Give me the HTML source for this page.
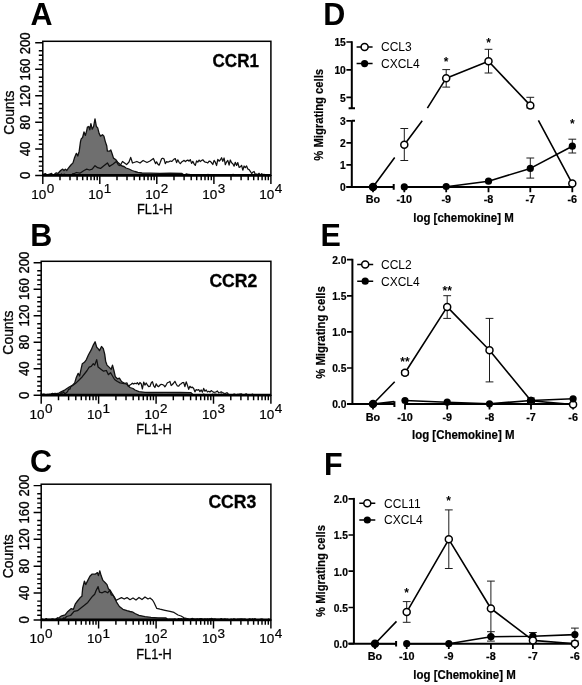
<!DOCTYPE html>
<html lang="en"><head><meta charset="utf-8"><title>Figure</title>
<style>
html,body{margin:0;padding:0;background:#fff}
svg{display:block}
svg text{font-family:"Liberation Sans", sans-serif;fill:#000}
</style></head><body>
<svg width="582" height="685" viewBox="0 0 582 685">
<rect x="0" y="0" width="582" height="685" fill="#fff"/>
<text x="30.6" y="24.9" font-size="30.5" font-weight="bold">A</text>
<polygon points="42.8,175.3 42.8,175.1 44.0,174.0 45.3,173.6 46.5,174.5 47.8,175.0 49.0,174.2 50.3,173.8 51.5,173.4 52.8,174.9 54.0,174.9 55.3,173.4 56.5,172.9 57.9,173.5 60.6,170.5 62.7,169.1 64.0,170.5 65.4,169.1 66.8,170.5 68.2,168.4 70.9,165.0 73.0,162.9 74.4,158.1 76.4,153.3 77.8,156.0 79.2,151.2 80.5,141.6 81.2,138.9 82.6,137.5 84.0,132.0 85.4,135.4 86.7,130.6 87.4,127.2 88.8,126.5 89.8,129.9 90.9,123.7 92.2,129.2 93.6,126.5 95.0,118.9 96.4,126.5 97.7,127.9 99.1,133.4 100.5,136.1 102.5,134.7 103.9,136.1 105.3,141.6 106.7,145.7 107.4,151.2 109.4,151.2 110.8,149.9 112.2,154.0 113.5,158.1 115.6,159.5 117.7,162.2 120.0,164.3 122.0,166.0 124.0,166.5 126.0,168.0 129.0,169.0 132.0,170.5 135.0,171.5 138.0,172.3 142.0,173.0 150.0,173.2 160.0,173.3 170.0,173.2 182.0,173.4 184.0,175.0 185.3,174.6 186.6,173.9 187.8,174.3 189.1,174.3 190.3,175.3 191.6,174.6 192.8,175.1 194.1,175.3 195.3,175.3 196.6,175.3 197.8,175.0 199.1,175.3 200.3,174.9 201.6,175.3 202.8,175.3 204.1,175.3 205.3,175.3 206.6,175.3 207.8,174.4 209.1,175.3 210.3,174.7 211.6,175.3 212.8,175.3 214.1,174.8 215.3,175.3 216.6,175.3 217.8,175.3 219.1,175.3 220.3,175.3 221.6,175.3 222.8,175.3 224.1,175.3 225.3,175.3 226.6,174.7 227.8,175.3 229.1,175.3 230.3,175.3 231.6,175.3 232.8,174.5 234.1,174.7 235.3,175.3 236.6,175.3 237.8,175.3 239.1,175.3 240.3,175.3 241.6,175.1 242.8,175.3 244.1,175.3 245.3,175.3 246.6,174.9 247.8,175.3 249.1,175.3 250.3,175.3 251.6,174.8 252.8,175.3 254.1,175.3 255.3,175.1 256.6,175.3 257.8,174.9 259.1,175.3 260.3,175.3 261.6,175.3 262.8,175.3 264.1,175.3 265.3,175.3 266.6,175.3 267.8,175.2 269.1,175.3 270.3,175.3 270.9,175.3" fill="#6f6f6f" stroke="#111" stroke-width="1.3" stroke-linejoin="round"/>
<polyline points="42.8,175.3 44.0,175.3 45.3,175.3 46.5,175.0 47.8,175.2 49.0,175.2 50.3,175.2 51.5,174.4 52.8,175.1 54.0,175.1 55.3,175.1 56.5,175.1 57.8,175.0 59.0,174.9 60.3,175.0 61.5,174.0 62.8,174.9 64.0,174.2 65.3,174.7 66.5,174.7 67.8,174.6 69.0,174.5 70.3,175.0 71.5,175.3 72.8,173.5 74.4,173.5 76.4,172.5 79.9,173.2 84.0,170.5 86.7,169.1 89.5,170.0 92.2,169.1 95.0,165.7 97.7,167.7 100.5,168.4 103.9,165.7 107.4,162.9 109.4,166.4 112.8,164.3 116.3,161.5 118.4,165.0 120.0,165.7 122.5,161.5 126.6,164.6 129.0,162.0 130.7,157.4 132.5,163.0 136.9,161.5 140.0,163.0 143.1,160.5 147.0,162.5 150.0,161.0 153.4,158.5 155.5,163.6 156.6,161.8 157.8,164.1 159.1,165.2 160.3,162.3 161.6,158.8 162.8,158.2 164.1,159.1 165.3,163.7 166.6,161.7 167.8,162.1 169.1,161.6 170.3,161.0 171.6,161.4 172.8,160.4 174.1,159.1 175.3,158.6 176.6,162.6 177.8,159.8 179.1,162.3 180.3,163.7 181.6,162.1 182.8,161.2 184.1,160.4 185.3,161.7 186.6,160.6 187.8,160.1 189.1,161.2 190.3,159.6 191.6,163.4 192.8,161.3 194.1,163.9 195.3,165.4 196.6,160.9 197.8,162.2 199.1,160.1 200.3,161.5 201.6,160.6 202.8,159.8 204.1,161.2 205.3,162.2 206.6,162.3 207.8,163.0 209.1,161.2 210.3,161.4 211.6,162.8 212.8,164.5 214.1,160.4 215.3,162.2 216.6,165.5 217.8,159.3 219.1,161.2 220.3,160.0 221.6,157.7 222.8,161.4 224.1,158.0 225.3,164.7 226.6,161.8 227.8,160.4 229.1,165.2 230.3,160.0 231.6,162.8 232.8,163.8 234.1,166.1 235.3,162.3 236.6,165.4 237.8,162.6 239.1,167.3 240.3,166.9 241.6,165.3 242.8,170.2 244.1,166.0 245.3,167.7 246.6,165.9 247.8,169.0 249.1,169.6 250.3,171.3 251.6,173.5 252.8,172.3 254.1,171.5 255.3,174.5 256.6,174.0 257.8,174.6 259.1,173.3 260.3,175.3 261.6,173.7 262.8,174.6 264.1,174.4 265.3,175.0 266.6,175.1 267.8,175.1 269.1,175.2 270.3,175.3" fill="none" stroke="#111" stroke-width="1.25" stroke-linejoin="round"/>
<rect x="42.8" y="41.3" width="228.09999999999997" height="134.0" fill="none" stroke="#000" stroke-width="1.5"/>
<line x1="42.8" y1="175.3" x2="270.9" y2="175.3" stroke="#000" stroke-width="2.7"/>
<path d="M35.2,175.4H42.8 M38.8,170.8H42.8 M38.8,166.1H42.8 M38.8,161.5H42.8 M38.8,156.8H42.8 M35.2,148.9H42.8 M38.8,144.2H42.8 M38.8,139.6H42.8 M38.8,134.9H42.8 M38.8,130.3H42.8 M35.2,122.3H42.8 M38.8,117.7H42.8 M38.8,113.0H42.8 M38.8,108.4H42.8 M38.8,103.7H42.8 M35.2,95.8H42.8 M38.8,91.1H42.8 M38.8,86.5H42.8 M38.8,81.8H42.8 M38.8,77.2H42.8 M35.2,69.2H42.8 M38.8,64.6H42.8 M38.8,60.0H42.8 M38.8,55.3H42.8 M38.8,50.7H42.8 M35.2,42.7H42.8 M42.8,175.3V183.9 M60.0,175.3V180.3 M70.0,175.3V180.3 M77.1,175.3V180.3 M82.7,175.3V180.3 M87.2,175.3V180.3 M91.0,175.3V180.3 M94.3,175.3V180.3 M97.2,175.3V180.3 M99.8,175.3V183.9 M117.0,175.3V180.3 M127.0,175.3V180.3 M134.2,175.3V180.3 M139.7,175.3V180.3 M144.2,175.3V180.3 M148.0,175.3V180.3 M151.3,175.3V180.3 M154.2,175.3V180.3 M156.8,175.3V183.9 M174.0,175.3V180.3 M184.1,175.3V180.3 M191.2,175.3V180.3 M196.7,175.3V180.3 M201.2,175.3V180.3 M205.0,175.3V180.3 M208.3,175.3V180.3 M211.3,175.3V180.3 M213.9,175.3V183.9 M231.0,175.3V180.3 M241.1,175.3V180.3 M248.2,175.3V180.3 M253.7,175.3V180.3 M258.2,175.3V180.3 M262.1,175.3V180.3 M265.4,175.3V180.3 M268.3,175.3V180.3 M270.9,175.3V183.9" stroke="#000" stroke-width="1.45" fill="none"/>
<text transform="translate(30.3,175.4) rotate(-90) scale(1,1.14)" text-anchor="middle" font-size="13.1" stroke="#000" stroke-width="0.3">0</text>
<text transform="translate(30.3,149.0) rotate(-90) scale(1,1.14)" text-anchor="middle" font-size="13.1" stroke="#000" stroke-width="0.3">40</text>
<text transform="translate(30.3,122.6) rotate(-90) scale(1,1.14)" text-anchor="middle" font-size="13.1" stroke="#000" stroke-width="0.3">80</text>
<text transform="translate(30.3,96.1) rotate(-90) scale(1,1.14)" text-anchor="middle" font-size="13.1" stroke="#000" stroke-width="0.3">120</text>
<text transform="translate(30.3,69.7) rotate(-90) scale(1,1.14)" text-anchor="middle" font-size="13.1" stroke="#000" stroke-width="0.3">160</text>
<text transform="translate(30.3,43.3) rotate(-90) scale(1,1.14)" text-anchor="middle" font-size="13.1" stroke="#000" stroke-width="0.3">200</text>
<text transform="translate(14.3,112.6) rotate(-90) scale(1,1.03)" text-anchor="middle" font-size="13.9" stroke="#000" stroke-width="0.3">Counts</text>
<text transform="translate(42.7,198.7) scale(1,1.0)" text-anchor="middle" font-size="13.5" stroke="#000" stroke-width="0.2">10<tspan dy="-5.7" dx="0.5">0</tspan></text>
<text transform="translate(99.7,198.7) scale(1,1.0)" text-anchor="middle" font-size="13.5" stroke="#000" stroke-width="0.2">10<tspan dy="-5.7" dx="0.5">1</tspan></text>
<text transform="translate(156.7,198.7) scale(1,1.0)" text-anchor="middle" font-size="13.5" stroke="#000" stroke-width="0.2">10<tspan dy="-5.7" dx="0.5">2</tspan></text>
<text transform="translate(213.8,198.7) scale(1,1.0)" text-anchor="middle" font-size="13.5" stroke="#000" stroke-width="0.2">10<tspan dy="-5.7" dx="0.5">3</tspan></text>
<text transform="translate(270.8,198.7) scale(1,1.0)" text-anchor="middle" font-size="13.5" stroke="#000" stroke-width="0.2">10<tspan dy="-5.7" dx="0.5">4</tspan></text>
<text transform="translate(154.8,214.3) scale(1,1.1)" text-anchor="middle" font-size="12.8" stroke="#000" stroke-width="0.25">FL1-H</text>
<text transform="translate(212.6,67.0) scale(1,1.08)" font-size="17.0" font-weight="bold" stroke="#000" stroke-width="0.3">CCR1</text>
<text x="30.3" y="245.7" font-size="30.5" font-weight="bold">B</text>
<polygon points="41.2,395.2 41.2,393.2 42.5,394.9 43.7,394.0 45.0,394.4 46.2,394.7 47.5,394.5 48.7,394.5 50.0,394.2 51.2,393.9 52.5,393.4 53.7,393.9 55.0,393.3 56.2,393.6 57.5,393.4 58.2,393.5 61.0,391.9 65.1,389.8 69.2,387.0 72.7,385.0 74.7,382.9 76.1,378.1 78.2,373.3 79.6,376.0 80.9,369.9 82.3,363.7 84.4,362.3 86.4,359.6 88.5,354.7 91.2,349.9 93.3,345.1 95.1,341.7 96.7,347.2 98.1,348.6 99.5,350.6 101.5,346.5 103.3,348.6 104.7,354.1 105.7,361.6 107.0,365.1 109.1,367.1 111.2,369.2 112.5,365.1 113.9,370.5 115.3,376.7 117.4,378.8 119.4,378.1 121.5,381.5 124.9,383.5 127.0,384.5 130.0,387.5 133.0,388.5 135.0,390.0 139.0,391.7 145.0,392.3 150.0,392.5 165.0,392.4 180.0,392.5 191.0,392.6 193.0,394.6 193.7,394.9 194.9,394.9 196.2,394.9 197.4,394.9 198.7,394.9 199.9,394.9 201.2,394.7 202.4,394.7 203.7,394.1 204.9,395.0 206.2,395.0 207.4,395.0 208.7,395.0 209.9,395.0 211.2,395.0 212.4,394.2 213.7,394.6 214.9,394.2 216.2,394.3 217.4,395.0 218.7,394.9 219.9,395.0 221.2,394.0 222.4,395.0 223.7,394.4 224.9,394.3 226.2,395.0 227.4,395.0 228.7,395.0 229.9,395.1 231.2,395.0 232.4,395.1 233.7,395.1 234.9,395.1 236.2,395.1 237.4,395.1 238.7,395.1 239.9,395.1 241.2,395.1 242.4,394.7 243.7,395.1 244.9,394.7 246.2,395.1 247.4,395.1 248.7,395.1 249.9,395.1 251.2,395.1 252.4,395.1 253.7,395.1 254.9,395.1 256.2,395.1 257.4,395.2 258.7,395.2 259.9,395.2 261.2,395.2 262.4,395.2 263.7,395.2 264.9,395.2 266.2,394.8 267.4,395.2 268.7,395.2 269.9,395.0 270.9,395.2" fill="#6f6f6f" stroke="#111" stroke-width="1.3" stroke-linejoin="round"/>
<polyline points="41.2,395.1 42.5,395.2 43.7,395.2 45.0,395.2 46.2,395.1 47.5,395.1 48.7,395.1 50.0,395.1 51.2,395.1 52.5,395.1 53.7,395.1 55.0,394.2 56.2,394.1 57.5,395.0 58.7,394.8 60.0,395.2 61.2,392.8 62.5,393.2 63.7,391.8 65.0,394.5 66.2,392.7 67.5,391.8 68.7,389.1 70.0,389.1 70.6,387.0 75.4,383.6 79.6,379.5 82.3,376.7 84.4,374.0 87.1,370.5 89.2,367.1 91.2,366.4 93.3,363.7 94.7,365.1 96.7,359.6 98.1,367.1 100.9,369.2 103.6,371.2 106.4,370.5 108.4,374.7 110.5,372.6 112.5,376.0 114.6,379.5 117.4,381.5 120.1,382.9 124.2,383.6 127.0,382.9 128.4,386.4 130.0,385.0 131.2,384.3 132.4,383.2 133.7,384.1 134.9,383.2 136.2,383.8 137.4,382.7 138.7,384.7 139.9,382.5 141.2,383.7 142.4,389.0 143.7,382.1 144.9,385.1 146.2,383.0 147.4,385.0 148.7,386.6 149.9,386.5 151.2,383.0 152.4,381.6 153.7,385.8 154.9,387.5 156.2,383.8 157.4,385.9 158.7,386.7 159.9,385.1 161.2,384.4 162.4,384.5 163.7,385.2 164.9,386.8 166.2,384.8 167.4,382.8 168.7,382.2 169.9,381.4 171.2,385.5 172.4,384.5 173.7,383.0 174.9,381.3 176.2,384.0 177.4,386.0 178.7,386.2 179.9,384.5 181.2,383.7 182.4,382.6 183.7,382.5 184.9,386.6 186.2,381.8 187.4,385.1 188.7,389.3 189.9,386.3 191.2,387.7 192.4,387.2 193.7,388.5 194.9,391.9 196.2,389.6 197.4,390.2 198.7,389.7 199.9,391.6 201.2,390.0 202.4,392.2 203.7,388.4 204.9,391.2 206.2,390.0 207.4,392.0 208.7,391.3 209.9,392.1 211.2,390.6 212.4,391.5 213.7,392.3 214.9,392.1 216.2,391.8 217.4,391.0 218.7,392.9 219.9,392.5 221.2,391.9 222.4,392.6 223.7,393.0 224.9,394.3 226.2,392.8 227.4,392.8 228.7,394.9 229.9,395.2 231.2,394.6 232.4,395.2 233.7,394.2 234.9,394.2 236.2,395.0 237.4,394.4 238.7,394.4 239.9,394.0 241.2,393.9 242.4,394.5 243.7,394.6 244.9,394.6 246.2,393.8 247.4,394.7 248.7,394.8 249.9,394.9 251.2,395.0 252.4,394.1 253.7,394.7 254.9,395.2 256.2,394.6 257.4,395.2 258.7,394.9 259.9,395.2 261.2,395.2 262.4,395.2 263.7,395.2 264.9,395.2 266.2,394.8 267.4,395.2 268.7,395.2 269.9,395.2" fill="none" stroke="#111" stroke-width="1.25" stroke-linejoin="round"/>
<rect x="41.2" y="261.3" width="229.7" height="133.89999999999998" fill="none" stroke="#000" stroke-width="1.5"/>
<line x1="41.2" y1="395.2" x2="270.9" y2="395.2" stroke="#000" stroke-width="2.7"/>
<path d="M33.6,395.3H41.2 M37.2,390.7H41.2 M37.2,386.0H41.2 M37.2,381.4H41.2 M37.2,376.7H41.2 M33.6,368.8H41.2 M37.2,364.1H41.2 M37.2,359.5H41.2 M37.2,354.9H41.2 M37.2,350.2H41.2 M33.6,342.3H41.2 M37.2,337.6H41.2 M37.2,333.0H41.2 M37.2,328.3H41.2 M37.2,323.7H41.2 M33.6,315.7H41.2 M37.2,311.1H41.2 M37.2,306.5H41.2 M37.2,301.8H41.2 M37.2,297.2H41.2 M33.6,289.2H41.2 M37.2,284.6H41.2 M37.2,279.9H41.2 M37.2,275.3H41.2 M37.2,270.7H41.2 M33.6,262.7H41.2 M41.2,395.2V403.8 M58.5,395.2V400.2 M68.6,395.2V400.2 M75.8,395.2V400.2 M81.3,395.2V400.2 M85.9,395.2V400.2 M89.7,395.2V400.2 M93.1,395.2V400.2 M96.0,395.2V400.2 M98.6,395.2V403.8 M115.9,395.2V400.2 M126.0,395.2V400.2 M133.2,395.2V400.2 M138.8,395.2V400.2 M143.3,395.2V400.2 M147.2,395.2V400.2 M150.5,395.2V400.2 M153.4,395.2V400.2 M156.1,395.2V403.8 M173.3,395.2V400.2 M183.4,395.2V400.2 M190.6,395.2V400.2 M196.2,395.2V400.2 M200.7,395.2V400.2 M204.6,395.2V400.2 M207.9,395.2V400.2 M210.8,395.2V400.2 M213.5,395.2V403.8 M230.8,395.2V400.2 M240.9,395.2V400.2 M248.0,395.2V400.2 M253.6,395.2V400.2 M258.2,395.2V400.2 M262.0,395.2V400.2 M265.3,395.2V400.2 M268.3,395.2V400.2 M270.9,395.2V403.8" stroke="#000" stroke-width="1.45" fill="none"/>
<text transform="translate(28.5,395.3) rotate(-90) scale(1,1.08)" text-anchor="middle" font-size="13.1" stroke="#000" stroke-width="0.3">0</text>
<text transform="translate(28.5,368.8) rotate(-90) scale(1,1.08)" text-anchor="middle" font-size="13.1" stroke="#000" stroke-width="0.3">40</text>
<text transform="translate(28.5,342.3) rotate(-90) scale(1,1.08)" text-anchor="middle" font-size="13.1" stroke="#000" stroke-width="0.3">80</text>
<text transform="translate(28.5,315.7) rotate(-90) scale(1,1.08)" text-anchor="middle" font-size="13.1" stroke="#000" stroke-width="0.3">120</text>
<text transform="translate(28.5,289.2) rotate(-90) scale(1,1.08)" text-anchor="middle" font-size="13.1" stroke="#000" stroke-width="0.3">160</text>
<text transform="translate(28.5,262.7) rotate(-90) scale(1,1.08)" text-anchor="middle" font-size="13.1" stroke="#000" stroke-width="0.3">200</text>
<text transform="translate(13.3,332.6) rotate(-90) scale(1,1.03)" text-anchor="middle" font-size="13.9" stroke="#000" stroke-width="0.3">Counts</text>
<text transform="translate(41.1,418.6) scale(1,1.0)" text-anchor="middle" font-size="13.5" stroke="#000" stroke-width="0.2">10<tspan dy="-5.7" dx="0.5">0</tspan></text>
<text transform="translate(98.5,418.6) scale(1,1.0)" text-anchor="middle" font-size="13.5" stroke="#000" stroke-width="0.2">10<tspan dy="-5.7" dx="0.5">1</tspan></text>
<text transform="translate(156.0,418.6) scale(1,1.0)" text-anchor="middle" font-size="13.5" stroke="#000" stroke-width="0.2">10<tspan dy="-5.7" dx="0.5">2</tspan></text>
<text transform="translate(213.4,418.6) scale(1,1.0)" text-anchor="middle" font-size="13.5" stroke="#000" stroke-width="0.2">10<tspan dy="-5.7" dx="0.5">3</tspan></text>
<text transform="translate(270.8,418.6) scale(1,1.0)" text-anchor="middle" font-size="13.5" stroke="#000" stroke-width="0.2">10<tspan dy="-5.7" dx="0.5">4</tspan></text>
<text transform="translate(154.0,434.2) scale(1,1.1)" text-anchor="middle" font-size="12.8" stroke="#000" stroke-width="0.25">FL1-H</text>
<text transform="translate(209.4,286.7) scale(1,1.08)" font-size="17.6" font-weight="bold" stroke="#000" stroke-width="0.3">CCR2</text>
<text x="30.0" y="472.4" font-size="30.5" font-weight="bold">C</text>
<polygon points="41.2,619.8 41.2,619.1 42.5,619.2 43.7,619.8 45.0,619.7 46.2,618.6 47.5,619.5 48.7,619.3 50.0,619.3 51.2,619.2 52.5,618.9 53.7,619.2 55.0,619.6 56.2,618.9 57.5,617.7 58.2,618.2 61.0,616.2 65.1,614.8 67.9,611.4 71.3,608.6 73.4,609.3 75.4,603.8 77.5,601.0 80.2,597.6 81.9,596.2 82.7,588.0 84.4,581.1 85.7,584.6 87.8,580.4 89.9,576.3 91.9,574.2 95.4,574.0 97.4,572.6 98.4,575.6 99.8,570.8 101.1,575.6 102.9,580.4 105.0,582.5 107.0,584.6 108.4,588.7 110.5,590.7 112.5,594.2 114.6,597.6 116.7,602.4 119.4,606.5 122.9,609.3 127.0,610.7 130.0,611.5 133.0,612.2 135.0,613.5 139.0,615.3 145.0,616.6 151.0,617.4 158.0,617.8 166.0,618.0 168.0,619.6 168.7,619.2 169.9,619.2 171.2,619.2 172.4,619.2 173.7,619.2 174.9,618.8 176.2,619.3 177.4,619.3 178.7,618.6 179.9,619.1 181.2,618.6 182.4,619.3 183.7,618.6 184.9,618.6 186.2,619.3 187.4,619.1 188.7,619.3 189.9,619.3 191.2,618.9 192.4,618.4 193.7,619.4 194.9,619.4 196.2,619.4 197.4,618.8 198.7,619.4 199.9,618.7 201.2,618.6 202.4,619.4 203.7,619.4 204.9,619.4 206.2,619.4 207.4,618.9 208.7,619.4 209.9,618.7 211.2,619.5 212.4,619.0 213.7,619.3 214.9,618.8 216.2,619.5 217.4,619.5 218.7,619.5 219.9,619.5 221.2,618.6 222.4,619.5 223.7,619.5 224.9,619.5 226.2,619.5 227.4,619.6 228.7,619.6 229.9,619.6 231.2,619.1 232.4,619.6 233.7,619.6 234.9,619.1 236.2,619.6 237.4,619.6 238.7,619.6 239.9,619.2 241.2,619.6 242.4,619.5 243.7,619.6 244.9,619.5 246.2,619.7 247.4,619.7 248.7,619.4 249.9,619.7 251.2,619.7 252.4,619.3 253.7,619.7 254.9,618.9 256.2,619.6 257.4,619.7 258.7,619.7 259.9,619.7 261.2,619.7 262.4,619.1 263.7,619.8 264.9,619.8 266.2,619.8 267.4,619.8 268.7,619.8 269.9,619.8 270.9,619.8" fill="#6f6f6f" stroke="#111" stroke-width="1.3" stroke-linejoin="round"/>
<polyline points="41.2,619.4 42.5,619.8 43.7,619.8 45.0,619.8 46.2,619.7 47.5,619.7 48.7,619.7 50.0,619.7 51.2,619.7 52.5,619.7 53.7,619.7 55.0,619.7 56.2,619.6 57.5,619.6 58.7,619.6 60.0,619.0 61.2,619.4 62.5,619.2 63.7,617.8 65.0,618.3 66.5,616.5 70.6,615.5 74.1,611.4 77.5,610.7 80.9,607.9 84.4,605.2 87.8,602.4 89.9,599.7 92.6,596.2 94.7,594.2 96.0,590.7 98.1,586.6 99.5,592.1 102.2,592.8 105.0,591.4 107.7,592.8 109.8,590.1 111.2,594.9 113.2,595.5 116.0,600.4 118.7,599.0 121.5,597.6 124.2,599.0 127.0,597.6 130.0,599.7 133.0,598.0 136.0,600.0 139.0,597.5 142.0,599.5 145.0,597.0 148.0,599.0 150.0,598.0 152.5,600.0 154.0,602.5 156.8,608.4 160.0,609.2 165.0,610.3 170.0,611.3 174.0,612.4 178.0,615.0 181.0,616.0 184.0,617.8 187.0,618.5 190.0,619.3 191.2,619.2 192.4,619.2 193.7,618.9 194.9,619.1 196.2,619.2 197.4,619.3 198.7,619.3 199.9,619.0 201.2,619.2 202.4,619.1 203.7,619.3 204.9,618.8 206.2,619.3 207.4,619.3 208.7,619.3 209.9,619.3 211.2,618.4 212.4,618.9 213.7,619.2 214.9,619.4 216.2,619.4 217.4,619.4 218.7,619.4 219.9,619.4 221.2,619.4 222.4,619.4 223.7,619.4 224.9,618.9 226.2,619.5 227.4,619.0 228.7,619.5 229.9,619.5 231.2,619.5 232.4,619.5 233.7,618.8 234.9,619.5 236.2,619.5 237.4,619.0 238.7,619.1 239.9,619.6 241.2,618.8 242.4,619.0 243.7,619.1 244.9,619.1 246.2,619.6 247.4,619.6 248.7,619.6 249.9,618.7 251.2,619.7 252.4,618.8 253.7,619.3 254.9,619.0 256.2,619.7 257.4,619.7 258.7,619.5 259.9,619.4 261.2,619.0 262.4,619.7 263.7,619.7 264.9,619.8 266.2,619.8 267.4,619.8 268.7,618.9 269.9,619.8" fill="none" stroke="#111" stroke-width="1.25" stroke-linejoin="round"/>
<rect x="41.2" y="484.2" width="229.7" height="135.59999999999997" fill="none" stroke="#000" stroke-width="1.5"/>
<line x1="41.2" y1="619.8" x2="270.9" y2="619.8" stroke="#000" stroke-width="2.7"/>
<path d="M33.6,619.9H41.2 M37.2,615.2H41.2 M37.2,610.5H41.2 M37.2,605.8H41.2 M37.2,601.1H41.2 M33.6,593.0H41.2 M37.2,588.3H41.2 M37.2,583.6H41.2 M37.2,578.9H41.2 M37.2,574.2H41.2 M33.6,566.2H41.2 M37.2,561.5H41.2 M37.2,556.8H41.2 M37.2,552.1H41.2 M37.2,547.4H41.2 M33.6,539.3H41.2 M37.2,534.6H41.2 M37.2,529.9H41.2 M37.2,525.2H41.2 M37.2,520.5H41.2 M33.6,512.5H41.2 M37.2,507.8H41.2 M37.2,503.1H41.2 M37.2,498.4H41.2 M37.2,493.7H41.2 M33.6,485.6H41.2 M41.2,619.8V628.4 M58.5,619.8V624.8 M68.6,619.8V624.8 M75.8,619.8V624.8 M81.3,619.8V624.8 M85.9,619.8V624.8 M89.7,619.8V624.8 M93.1,619.8V624.8 M96.0,619.8V624.8 M98.6,619.8V628.4 M115.9,619.8V624.8 M126.0,619.8V624.8 M133.2,619.8V624.8 M138.8,619.8V624.8 M143.3,619.8V624.8 M147.2,619.8V624.8 M150.5,619.8V624.8 M153.4,619.8V624.8 M156.1,619.8V628.4 M173.3,619.8V624.8 M183.4,619.8V624.8 M190.6,619.8V624.8 M196.2,619.8V624.8 M200.7,619.8V624.8 M204.6,619.8V624.8 M207.9,619.8V624.8 M210.8,619.8V624.8 M213.5,619.8V628.4 M230.8,619.8V624.8 M240.9,619.8V624.8 M248.0,619.8V624.8 M253.6,619.8V624.8 M258.2,619.8V624.8 M262.0,619.8V624.8 M265.3,619.8V624.8 M268.3,619.8V624.8 M270.9,619.8V628.4" stroke="#000" stroke-width="1.45" fill="none"/>
<text transform="translate(28.5,619.9) rotate(-90) scale(1,1.08)" text-anchor="middle" font-size="13.1" stroke="#000" stroke-width="0.3">0</text>
<text transform="translate(28.5,593.0) rotate(-90) scale(1,1.08)" text-anchor="middle" font-size="13.1" stroke="#000" stroke-width="0.3">40</text>
<text transform="translate(28.5,566.2) rotate(-90) scale(1,1.08)" text-anchor="middle" font-size="13.1" stroke="#000" stroke-width="0.3">80</text>
<text transform="translate(28.5,539.3) rotate(-90) scale(1,1.08)" text-anchor="middle" font-size="13.1" stroke="#000" stroke-width="0.3">120</text>
<text transform="translate(28.5,512.5) rotate(-90) scale(1,1.08)" text-anchor="middle" font-size="13.1" stroke="#000" stroke-width="0.3">160</text>
<text transform="translate(28.5,485.6) rotate(-90) scale(1,1.08)" text-anchor="middle" font-size="13.1" stroke="#000" stroke-width="0.3">200</text>
<text transform="translate(13.3,556.3) rotate(-90) scale(1,1.03)" text-anchor="middle" font-size="13.9" stroke="#000" stroke-width="0.3">Counts</text>
<text transform="translate(41.1,643.2) scale(1,1.0)" text-anchor="middle" font-size="13.5" stroke="#000" stroke-width="0.2">10<tspan dy="-5.7" dx="0.5">0</tspan></text>
<text transform="translate(98.5,643.2) scale(1,1.0)" text-anchor="middle" font-size="13.5" stroke="#000" stroke-width="0.2">10<tspan dy="-5.7" dx="0.5">1</tspan></text>
<text transform="translate(156.0,643.2) scale(1,1.0)" text-anchor="middle" font-size="13.5" stroke="#000" stroke-width="0.2">10<tspan dy="-5.7" dx="0.5">2</tspan></text>
<text transform="translate(213.4,643.2) scale(1,1.0)" text-anchor="middle" font-size="13.5" stroke="#000" stroke-width="0.2">10<tspan dy="-5.7" dx="0.5">3</tspan></text>
<text transform="translate(270.8,643.2) scale(1,1.0)" text-anchor="middle" font-size="13.5" stroke="#000" stroke-width="0.2">10<tspan dy="-5.7" dx="0.5">4</tspan></text>
<text transform="translate(154.0,658.8) scale(1,1.1)" text-anchor="middle" font-size="12.8" stroke="#000" stroke-width="0.25">FL1-H</text>
<text transform="translate(208.4,508.1) scale(1,1.08)" font-size="17.6" font-weight="bold" stroke="#000" stroke-width="0.3">CCR3</text>
<text x="323.2" y="24.7" font-size="30.5" font-weight="bold">D</text>
<path d="M351.8,41.2V108.2M348.6,108.2H355.0M351.8,120.8V186.9M351.8,120.8H355.0" stroke="#000" stroke-width="2.0" fill="none"/>
<text transform="translate(345.8,46.2) scale(0.95,1)" text-anchor="end" font-size="10.8" font-weight="bold" stroke="#000" stroke-width="0.2">15</text>
<text transform="translate(345.8,74.0) scale(0.95,1)" text-anchor="end" font-size="10.8" font-weight="bold" stroke="#000" stroke-width="0.2">10</text>
<text transform="translate(345.8,101.6) scale(0.95,1)" text-anchor="end" font-size="10.8" font-weight="bold" stroke="#000" stroke-width="0.2">5</text>
<text transform="translate(345.8,125.0) scale(0.95,1)" text-anchor="end" font-size="10.8" font-weight="bold" stroke="#000" stroke-width="0.2">3</text>
<text transform="translate(345.8,147.1) scale(0.95,1)" text-anchor="end" font-size="10.8" font-weight="bold" stroke="#000" stroke-width="0.2">2</text>
<text transform="translate(345.8,169.0) scale(0.95,1)" text-anchor="end" font-size="10.8" font-weight="bold" stroke="#000" stroke-width="0.2">1</text>
<text transform="translate(345.8,191.1) scale(0.95,1)" text-anchor="end" font-size="10.8" font-weight="bold" stroke="#000" stroke-width="0.2">0</text>
<path d="M346.4,42.0H351.8 M346.4,69.8H351.8 M346.4,97.4H351.8 M346.4,120.8H351.8 M346.4,142.9H351.8 M346.4,164.8H351.8 M346.4,186.9H351.8" stroke="#000" stroke-width="1.7" fill="none"/>
<text transform="translate(323.2,114.8) rotate(-90) scale(0.908,1)" text-anchor="middle" font-size="12.4" font-weight="bold" stroke="#000" stroke-width="0.2">% Migrating cells</text>
<path d="M346.4,186.9H393.7M393.7,184.1V189.70000000000002M404.3,186.9H573.1" stroke="#000" stroke-width="2.0" fill="none"/>
<path d="M373.0,186.9V192.3 M404.3,186.9V192.3 M446.2,186.9V192.3 M488.5,186.9V192.3 M530.3,186.9V192.3 M572.3,186.9V192.3" stroke="#000" stroke-width="1.8" fill="none"/>
<text x="373.0" y="203.0" text-anchor="middle" font-size="10.8" font-weight="bold" stroke="#000" stroke-width="0.2">Bo</text>
<text x="404.3" y="203.0" text-anchor="middle" font-size="10.8" font-weight="bold" stroke="#000" stroke-width="0.2">-10</text>
<text x="446.2" y="203.0" text-anchor="middle" font-size="10.8" font-weight="bold" stroke="#000" stroke-width="0.2">-9</text>
<text x="488.5" y="203.0" text-anchor="middle" font-size="10.8" font-weight="bold" stroke="#000" stroke-width="0.2">-8</text>
<text x="530.3" y="203.0" text-anchor="middle" font-size="10.8" font-weight="bold" stroke="#000" stroke-width="0.2">-7</text>
<text x="572.3" y="203.0" text-anchor="middle" font-size="10.8" font-weight="bold" stroke="#000" stroke-width="0.2">-6</text>
<text transform="translate(463.5,222.2) scale(0.94,1)" text-anchor="middle" font-size="12.2" font-weight="bold" stroke="#000" stroke-width="0.2">log [chemokine] M</text>
<path d="M356.6,46.9H372.6M356.6,63.6H372.6" stroke="#000" stroke-width="1.5"/>
<circle cx="364.6" cy="46.9" r="3.5" fill="#fff" stroke="#000" stroke-width="1.5"/>
<circle cx="364.6" cy="63.6" r="3.6" fill="#000"/>
<text x="381" y="51.2" font-size="12">CCL3</text>
<text x="381" y="67.9" font-size="12">CXCL4</text>
<path d="M404.3,128.5V160.5M400.4,128.5H408.2M400.4,160.5H408.2" stroke="#1c1c1c" stroke-width="1.0" fill="none"/>
<path d="M446.2,69.6V87.1M442.3,69.6H450.1M442.3,87.1H450.1" stroke="#1c1c1c" stroke-width="1.0" fill="none"/>
<path d="M488.5,49.3V73.0M484.6,49.3H492.4M484.6,73.0H492.4" stroke="#1c1c1c" stroke-width="1.0" fill="none"/>
<path d="M530.3,97.3V108.0M526.4,97.3H534.2M526.4,108.0H534.2" stroke="#1c1c1c" stroke-width="1.0" fill="none"/>
<path d="M530.3,158.0V178.1M526.4,158.0H534.2M526.4,178.1H534.2" stroke="#1c1c1c" stroke-width="1.0" fill="none"/>
<path d="M572.3,139.2V153.0M568.4,139.2H576.2M568.4,153.0H576.2" stroke="#1c1c1c" stroke-width="1.0" fill="none"/>
<path d="M373,186.9L394.7,157.6M404.3,144.8L422.2,120.8M427.4,108.2L446.2,78.2L488.5,61.3L530.3,105.4L532.2,108.2M538.4,120.4L572.3,183.6" stroke="#000" stroke-width="1.6" fill="none" stroke-linejoin="round"/>
<path d="M373,186.9L393.7,186.9M404.3,186.9L446.2,186.7L488.5,181.2L530.3,168.4L572.3,146.2" stroke="#000" stroke-width="1.6" fill="none" stroke-linejoin="round"/>
<circle cx="373.0" cy="186.9" r="4.25" fill="#000"/>
<circle cx="404.3" cy="186.9" r="3.6" fill="#000"/>
<circle cx="446.2" cy="186.5" r="3.6" fill="#000"/>
<circle cx="488.5" cy="181.2" r="3.6" fill="#000"/>
<circle cx="530.3" cy="168.4" r="3.6" fill="#000"/>
<circle cx="572.3" cy="146.2" r="3.6" fill="#000"/>
<circle cx="404.3" cy="144.8" r="3.5" fill="#fff" stroke="#000" stroke-width="1.5"/>
<circle cx="446.2" cy="78.2" r="3.5" fill="#fff" stroke="#000" stroke-width="1.5"/>
<circle cx="488.5" cy="61.3" r="3.5" fill="#fff" stroke="#000" stroke-width="1.5"/>
<circle cx="530.3" cy="105.4" r="3.5" fill="#fff" stroke="#000" stroke-width="1.5"/>
<circle cx="572.3" cy="183.6" r="3.5" fill="#fff" stroke="#000" stroke-width="1.5"/>
<text x="446.2" y="66.1" text-anchor="middle" font-size="12" font-weight="bold">*</text>
<text x="488.5" y="46.5" text-anchor="middle" font-size="12" font-weight="bold">*</text>
<text x="572.3" y="128.2" text-anchor="middle" font-size="12" font-weight="bold">*</text>
<text x="320.6" y="245.7" font-size="30.5" font-weight="bold">E</text>
<path d="M352.4,258.8V404.1" stroke="#000" stroke-width="2.0" fill="none"/>
<text transform="translate(346.4,263.9) scale(0.95,1)" text-anchor="end" font-size="10.8" font-weight="bold" stroke="#000" stroke-width="0.2">2.0</text>
<text transform="translate(346.4,300.0) scale(0.95,1)" text-anchor="end" font-size="10.8" font-weight="bold" stroke="#000" stroke-width="0.2">1.5</text>
<text transform="translate(346.4,336.1) scale(0.95,1)" text-anchor="end" font-size="10.8" font-weight="bold" stroke="#000" stroke-width="0.2">1.0</text>
<text transform="translate(346.4,372.2) scale(0.95,1)" text-anchor="end" font-size="10.8" font-weight="bold" stroke="#000" stroke-width="0.2">0.5</text>
<text transform="translate(346.4,408.3) scale(0.95,1)" text-anchor="end" font-size="10.8" font-weight="bold" stroke="#000" stroke-width="0.2">0.0</text>
<path d="M347.0,259.7H352.4 M347.0,295.8H352.4 M347.0,331.9H352.4 M347.0,368.0H352.4 M347.0,404.1H352.4" stroke="#000" stroke-width="1.7" fill="none"/>
<text transform="translate(325.1,332.5) rotate(-90) scale(0.915,1)" text-anchor="middle" font-size="12.4" font-weight="bold" stroke="#000" stroke-width="0.2">% Migrating cells</text>
<path d="M347.0,404.1H394.4M394.4,401.3V406.90000000000003M405.0,404.1H573.9" stroke="#000" stroke-width="2.0" fill="none"/>
<path d="M373.0,404.1V409.5 M405.0,404.1V409.5 M447.2,404.1V409.5 M489.5,404.1V409.5 M531.0,404.1V409.5 M573.1,404.1V409.5" stroke="#000" stroke-width="1.8" fill="none"/>
<text x="373.0" y="420.6" text-anchor="middle" font-size="10.8" font-weight="bold" stroke="#000" stroke-width="0.2">Bo</text>
<text x="405.0" y="420.6" text-anchor="middle" font-size="10.8" font-weight="bold" stroke="#000" stroke-width="0.2">-10</text>
<text x="447.2" y="420.6" text-anchor="middle" font-size="10.8" font-weight="bold" stroke="#000" stroke-width="0.2">-9</text>
<text x="489.5" y="420.6" text-anchor="middle" font-size="10.8" font-weight="bold" stroke="#000" stroke-width="0.2">-8</text>
<text x="531.0" y="420.6" text-anchor="middle" font-size="10.8" font-weight="bold" stroke="#000" stroke-width="0.2">-7</text>
<text x="573.1" y="420.6" text-anchor="middle" font-size="10.8" font-weight="bold" stroke="#000" stroke-width="0.2">-6</text>
<text transform="translate(463.2,439.4) scale(0.94,1)" text-anchor="middle" font-size="12.2" font-weight="bold" stroke="#000" stroke-width="0.2">log [Chemokine] M</text>
<path d="M357.2,264.4H373.2M357.2,281.2H373.2" stroke="#000" stroke-width="1.5"/>
<circle cx="365.2" cy="264.4" r="3.5" fill="#fff" stroke="#000" stroke-width="1.5"/>
<circle cx="365.2" cy="281.2" r="3.6" fill="#000"/>
<text x="381" y="268.7" font-size="12">CCL2</text>
<text x="381" y="285.5" font-size="12">CXCL4</text>
<path d="M405.0,370.8V374.8M401.1,370.8H408.9M401.1,374.8H408.9" stroke="#1c1c1c" stroke-width="1.0" fill="none"/>
<path d="M447.2,295.7V318.4M443.3,295.7H451.1M443.3,318.4H451.1" stroke="#1c1c1c" stroke-width="1.0" fill="none"/>
<path d="M489.5,318.4V381.9M485.6,318.4H493.4M485.6,381.9H493.4" stroke="#1c1c1c" stroke-width="1.0" fill="none"/>
<path d="M531.0,398.0V403.0M527.1,398.0H534.9M527.1,403.0H534.9" stroke="#1c1c1c" stroke-width="1.0" fill="none"/>
<path d="M373,404L394.7,381.7M405,372.8L447.2,306.9L489.5,350.3L531,400.7L573.1,404.6" stroke="#000" stroke-width="1.6" fill="none" stroke-linejoin="round"/>
<path d="M373,404L394.2,401.6M405,400.5L447.2,402.2L489.5,403.8L531,400.5L573.1,398.8" stroke="#000" stroke-width="1.6" fill="none" stroke-linejoin="round"/>
<circle cx="405.0" cy="372.8" r="3.5" fill="#fff" stroke="#000" stroke-width="1.5"/>
<circle cx="447.2" cy="306.9" r="3.5" fill="#fff" stroke="#000" stroke-width="1.5"/>
<circle cx="489.5" cy="350.3" r="3.5" fill="#fff" stroke="#000" stroke-width="1.5"/>
<circle cx="531.0" cy="400.9" r="3.5" fill="#fff" stroke="#000" stroke-width="1.5"/>
<circle cx="573.1" cy="404.6" r="3.5" fill="#fff" stroke="#000" stroke-width="1.5"/>
<circle cx="373.0" cy="404.1" r="4.25" fill="#000"/>
<circle cx="405.0" cy="400.5" r="3.6" fill="#000"/>
<circle cx="447.2" cy="402.2" r="3.6" fill="#000"/>
<circle cx="489.5" cy="403.8" r="3.6" fill="#000"/>
<circle cx="531.0" cy="400.3" r="3.6" fill="#000"/>
<circle cx="573.1" cy="398.8" r="3.6" fill="#000"/>
<text x="405.0" y="365.6" text-anchor="middle" font-size="12" font-weight="bold">**</text>
<text x="447.2" y="295.3" text-anchor="middle" font-size="12" font-weight="bold">**</text>
<text x="324.0" y="475.3" font-size="30.5" font-weight="bold">F</text>
<path d="M353.9,497.9V643.7" stroke="#000" stroke-width="2.0" fill="none"/>
<text transform="translate(347.9,503.0) scale(0.95,1)" text-anchor="end" font-size="10.8" font-weight="bold" stroke="#000" stroke-width="0.2">2.0</text>
<text transform="translate(347.9,539.2) scale(0.95,1)" text-anchor="end" font-size="10.8" font-weight="bold" stroke="#000" stroke-width="0.2">1.5</text>
<text transform="translate(347.9,575.5) scale(0.95,1)" text-anchor="end" font-size="10.8" font-weight="bold" stroke="#000" stroke-width="0.2">1.0</text>
<text transform="translate(347.9,611.7) scale(0.95,1)" text-anchor="end" font-size="10.8" font-weight="bold" stroke="#000" stroke-width="0.2">0.5</text>
<text transform="translate(347.9,647.9) scale(0.95,1)" text-anchor="end" font-size="10.8" font-weight="bold" stroke="#000" stroke-width="0.2">0.0</text>
<path d="M348.5,498.8H353.9 M348.5,535.0H353.9 M348.5,571.2H353.9 M348.5,607.5H353.9 M348.5,643.7H353.9" stroke="#000" stroke-width="1.7" fill="none"/>
<text transform="translate(325.1,571.0) rotate(-90) scale(0.908,1)" text-anchor="middle" font-size="12.4" font-weight="bold" stroke="#000" stroke-width="0.2">% Migrating cells</text>
<path d="M348.5,643.7H396.1M396.1,640.9000000000001V646.5M406.7,643.7H575.7" stroke="#000" stroke-width="2.0" fill="none"/>
<path d="M375.0,643.7V649.1 M406.7,643.7V649.1 M448.8,643.7V649.1 M490.9,643.7V649.1 M532.9,643.7V649.1 M574.9,643.7V649.1" stroke="#000" stroke-width="1.8" fill="none"/>
<text x="375.0" y="660.2" text-anchor="middle" font-size="10.8" font-weight="bold" stroke="#000" stroke-width="0.2">Bo</text>
<text x="406.7" y="660.2" text-anchor="middle" font-size="10.8" font-weight="bold" stroke="#000" stroke-width="0.2">-10</text>
<text x="448.8" y="660.2" text-anchor="middle" font-size="10.8" font-weight="bold" stroke="#000" stroke-width="0.2">-9</text>
<text x="490.9" y="660.2" text-anchor="middle" font-size="10.8" font-weight="bold" stroke="#000" stroke-width="0.2">-8</text>
<text x="532.9" y="660.2" text-anchor="middle" font-size="10.8" font-weight="bold" stroke="#000" stroke-width="0.2">-7</text>
<text x="574.9" y="660.2" text-anchor="middle" font-size="10.8" font-weight="bold" stroke="#000" stroke-width="0.2">-6</text>
<text transform="translate(464.5,679.2) scale(0.94,1)" text-anchor="middle" font-size="12.2" font-weight="bold" stroke="#000" stroke-width="0.2">log [Chemokine] M</text>
<path d="M359.3,503.2H375.3M359.3,520.0H375.3" stroke="#000" stroke-width="1.5"/>
<circle cx="367.3" cy="503.2" r="3.5" fill="#fff" stroke="#000" stroke-width="1.5"/>
<circle cx="367.3" cy="520.0" r="3.6" fill="#000"/>
<text x="384.1" y="507.5" font-size="12">CCL11</text>
<text x="384.1" y="524.3" font-size="12">CXCL4</text>
<path d="M406.7,601.6V622.3M402.8,601.6H410.6M402.8,622.3H410.6" stroke="#1c1c1c" stroke-width="1.0" fill="none"/>
<path d="M448.8,509.9V568.5M444.9,509.9H452.7M444.9,568.5H452.7" stroke="#1c1c1c" stroke-width="1.0" fill="none"/>
<path d="M490.9,581.1V636.0M487.0,581.1H494.8M487.0,636.0H494.8" stroke="#1c1c1c" stroke-width="1.0" fill="none"/>
<path d="M490.9,631.7V641.1M487.0,631.7H494.8M487.0,641.1H494.8" stroke="#1c1c1c" stroke-width="1.0" fill="none"/>
<path d="M532.9,632.5V640.0M529.0,632.5H536.8M529.0,640.0H536.8" stroke="#1c1c1c" stroke-width="1.0" fill="none"/>
<path d="M574.9,628.1V641.0M571.0,628.1H578.8M571.0,641.0H578.8" stroke="#1c1c1c" stroke-width="1.0" fill="none"/>
<path d="M375,643.7L396.5,621.4M406.7,612.1L448.8,539.3L490.9,608.5L532.9,640.4L574.9,643.8" stroke="#000" stroke-width="1.6" fill="none" stroke-linejoin="round"/>
<path d="M375,643.7L395.9,643.7M406.7,643.7L448.8,643.7L490.9,636.7L532.9,636.2L574.9,634.6" stroke="#000" stroke-width="1.6" fill="none" stroke-linejoin="round"/>
<circle cx="375.0" cy="643.7" r="4.25" fill="#000"/>
<circle cx="406.7" cy="643.7" r="3.6" fill="#000"/>
<circle cx="448.8" cy="643.7" r="3.6" fill="#000"/>
<circle cx="490.9" cy="636.7" r="3.6" fill="#000"/>
<circle cx="532.9" cy="636.2" r="3.6" fill="#000"/>
<circle cx="574.9" cy="634.6" r="3.6" fill="#000"/>
<circle cx="406.7" cy="612.1" r="3.5" fill="#fff" stroke="#000" stroke-width="1.5"/>
<circle cx="448.8" cy="539.3" r="3.5" fill="#fff" stroke="#000" stroke-width="1.5"/>
<circle cx="490.9" cy="608.5" r="3.5" fill="#fff" stroke="#000" stroke-width="1.5"/>
<circle cx="532.9" cy="640.4" r="3.5" fill="#fff" stroke="#000" stroke-width="1.5"/>
<circle cx="574.9" cy="643.8" r="3.5" fill="#fff" stroke="#000" stroke-width="1.5"/>
<text x="406.7" y="597.1" text-anchor="middle" font-size="12" font-weight="bold">*</text>
<text x="448.7" y="505.2" text-anchor="middle" font-size="12" font-weight="bold">*</text>
</svg>
</body></html>
